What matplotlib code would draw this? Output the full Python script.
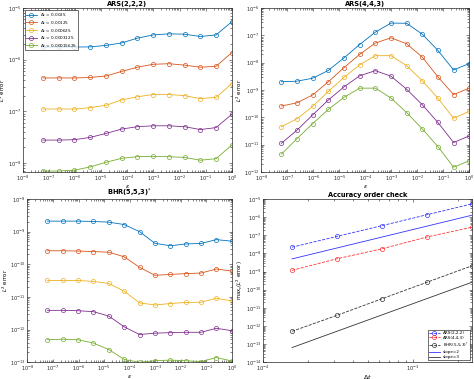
import matplotlib
matplotlib.use("Agg")
import matplotlib.pyplot as plt
import numpy as np
from matplotlib.ticker import LogLocator, NullFormatter

plt.rcParams["font.family"] = "DejaVu Sans"
plt.rcParams["mathtext.fontset"] = "dejavusans"

# epsilon values (x axis of the first three panels)
eps = [5.96e-8, 2.38e-7, 9.54e-7, 3.81e-6, 1.53e-5, 6.10e-5, 2.44e-4,
       9.77e-4, 3.91e-3, 1.56e-2, 6.25e-2, 0.25, 1.0]
dt_labels = ["0.0025", "0.00125", "0.000625", "0.0003125", "0.00015625"]
dt = [0.00015625, 0.0003125, 0.000625, 0.00125, 0.0025]

# ARS(2,2,2) errors, one row per dt (largest dt first)
ars222 = [
    [1.75e-6, 1.75e-6, 1.75e-6, 1.76e-6, 1.88e-6, 2.1e-6, 2.6e-6, 3.0e-6, 3.15e-6, 3.1e-6, 2.8e-6, 3.0e-6, 5.4e-6],
    [4.4e-7, 4.4e-7, 4.4e-7, 4.5e-7, 4.8e-7, 5.9e-7, 7.1e-7, 8.1e-7, 8.3e-7, 7.8e-7, 7.1e-7, 7.4e-7, 1.36e-6],
    [1.1e-7, 1.1e-7, 1.1e-7, 1.17e-7, 1.3e-7, 1.65e-7, 1.9e-7, 2.1e-7, 2.1e-7, 2.0e-7, 1.75e-7, 1.85e-7, 3.4e-7],
    [2.75e-8, 2.75e-8, 2.8e-8, 3.1e-8, 3.7e-8, 4.5e-8, 5.0e-8, 5.2e-8, 5.2e-8, 5.0e-8, 4.4e-8, 4.8e-8, 8.7e-8],
    [6.9e-9, 6.9e-9, 7.2e-9, 8.3e-9, 1.02e-8, 1.22e-8, 1.31e-8, 1.33e-8, 1.31e-8, 1.27e-8, 1.12e-8, 1.2e-8, 2.2e-8],
]

# ARS(4,4,3) errors
ars443 = [
    [2.0e-9, 2.1e-9, 2.7e-9, 5.2e-9, 1.5e-8, 4.6e-8, 1.3e-7, 2.8e-7, 2.75e-7, 1.1e-7, 2.8e-8, 5.4e-9, 9.3e-9],
    [2.6e-10, 3.4e-10, 6.6e-10, 2.0e-9, 6.6e-9, 2.0e-8, 5.2e-8, 8.1e-8, 4.9e-8, 1.6e-8, 3.0e-9, 6.8e-10, 1.17e-9],
    [4.5e-11, 8.9e-11, 2.5e-10, 8.9e-10, 2.9e-9, 8.3e-9, 1.8e-8, 1.8e-8, 7.8e-9, 2.2e-9, 5.0e-10, 9.3e-11, 1.66e-10],
    [1.12e-11, 3.4e-11, 1.23e-10, 4.3e-10, 1.3e-9, 3.3e-9, 5.1e-9, 3.2e-9, 1.07e-9, 2.9e-10, 6.5e-11, 1.2e-11, 2.1e-11],
    [4.5e-12, 1.66e-11, 5.9e-11, 1.95e-10, 5.4e-10, 1.17e-9, 1.17e-9, 5.1e-10, 1.5e-10, 3.8e-11, 8.5e-12, 1.5e-12, 2.6e-12],
]

# BHR(5,5,3)* errors
bhr553 = [
    [2.1e-9, 2.1e-9, 2.1e-9, 2.05e-9, 1.95e-9, 1.65e-9, 1.0e-9, 4.4e-10, 3.7e-10, 4.2e-10, 4.35e-10, 5.7e-10, 5.1e-10],
    [2.6e-10, 2.6e-10, 2.55e-10, 2.45e-10, 2.35e-10, 1.7e-10, 8.1e-11, 4.6e-11, 4.9e-11, 5.2e-11, 5.4e-11, 7.2e-11, 6.2e-11],
    [3.2e-11, 3.2e-11, 3.2e-11, 3.0e-11, 2.6e-11, 1.5e-11, 6.6e-12, 5.7e-12, 6.3e-12, 6.8e-12, 6.9e-12, 9.1e-12, 7.6e-12],
    [3.9e-12, 3.9e-12, 3.8e-12, 3.55e-12, 2.6e-12, 1.22e-12, 7.1e-13, 7.8e-13, 8.1e-13, 8.3e-13, 8.3e-13, 1.1e-12, 9.3e-13],
    [4.9e-13, 5.1e-13, 4.9e-13, 3.9e-13, 2.45e-13, 1.23e-13, 1.0e-13, 1.12e-13, 1.17e-13, 1.12e-13, 1.05e-13, 1.4e-13, 1.1e-13],
]

# reference slope lines, values at the smallest and largest dt
slope2 = [5.0e-9, 1.28e-6]
slope3 = [6.5e-14, 2.6e-10]

colors = ["#0072BD", "#D95319", "#EDB120", "#7E2F8E", "#77AC30"]
FS = 3.6


def style_axes(ax):
    ax.set_xscale("log")
    ax.set_yscale("log")
    ax.tick_params(which="both", direction="in", top=True, right=True,
                   labelsize=FS, width=0.4, colors="#262626", pad=1.2)
    ax.tick_params(which="major", length=2.5)
    ax.tick_params(which="minor", length=1.3)
    ax.yaxis.set_major_locator(LogLocator(base=10, numticks=20))
    ax.yaxis.set_minor_locator(LogLocator(base=10, subs=np.arange(2, 10), numticks=20))
    ax.yaxis.set_minor_formatter(NullFormatter())
    ax.xaxis.set_major_locator(LogLocator(base=10, numticks=20))
    ax.xaxis.set_minor_locator(LogLocator(base=10, subs=np.arange(2, 10), numticks=20))
    ax.xaxis.set_minor_formatter(NullFormatter())
    for s in ax.spines.values():
        s.set_linewidth(0.5)
        s.set_color("#262626")


fig = plt.figure(figsize=(4.74, 3.79), dpi=100)
ax1 = fig.add_axes([0.048, 0.546, 0.441, 0.433])
ax2 = fig.add_axes([0.551, 0.546, 0.439, 0.433])
ax3 = fig.add_axes([0.058, 0.044, 0.431, 0.431])
ax4 = fig.add_axes([0.555, 0.044, 0.441, 0.431])

panels = [(ax1, ars222, "ARS(2,2,2)", r"$L^1$ error", (6.6e-9, 1e-5)),
          (ax2, ars443, "ARS(4,4,3)", r"$L^2$ error", (1e-12, 1e-6)),
          (ax3, bhr553, r"BHR(5,5,3)$^{*}$", r"$L^2$ error", (1e-13, 1e-8))]

for ax, data, title, ylab, ylim in panels:
    for i, row in enumerate(data):
        ax.plot(eps, row, "-o", color=colors[i], lw=0.6, ms=3, mfc="none",
                mew=0.5, label=r"$\Delta t$ = " + dt_labels[i])
    style_axes(ax)
    ax.set_xlim(1e-8, 1)
    ax.set_ylim(*ylim)
    ax.set_title(title, fontsize=4.8, fontweight="bold", pad=1.2)
    ax.set_xlabel(r"$\epsilon$", fontsize=4.5, labelpad=0)
    ax.set_ylabel(ylab, fontsize=4, labelpad=0.3)

leg = ax1.legend(loc="upper left", fontsize=3.0, frameon=True, fancybox=False,
                 borderpad=0.3, labelspacing=0.15, handlelength=2.5,
                 borderaxespad=0.5)
leg.get_frame().set_edgecolor("k")
leg.get_frame().set_linewidth(0.5)

# accuracy order check: max over epsilon
max222 = np.max(ars222, axis=1)[::-1]
max443 = np.max(ars443, axis=1)[::-1]
max553 = np.max(bhr553, axis=1)[::-1]

ax4.plot(dt, max222, "--o", color="#3333ff", lw=0.6, ms=3, mfc="none", mew=0.5, label="ARS(2,2,2)")
ax4.plot(dt, max443, "--o", color="#ff3333", lw=0.6, ms=3, mfc="none", mew=0.5, label="ARS(4,4,3)")
ax4.plot(dt, max553, "--o", color="#333333", lw=0.6, ms=3, mfc="none", mew=0.5, label=r"BHR(5,5,3)$^{*}$")
ax4.plot([dt[0], dt[-1]], slope2, "-", color="#3333ff", lw=0.6, label="slope=2")
ax4.plot([dt[0], dt[-1]], slope3, "-", color="#333333", lw=0.6, label="slope=3")
style_axes(ax4)
ax4.set_xlim(1e-4, 2.5e-3)
ax4.set_ylim(1e-14, 1e-5)
ax4.set_title("Accuracy order check", fontsize=4.8, fontweight="bold", pad=1.2)
ax4.set_xlabel(r"$\Delta t$", fontsize=4.5, labelpad=0)
ax4.set_ylabel(r"max$_{\epsilon}$($L^2$ error)", fontsize=3.8, labelpad=0.3)
leg4 = ax4.legend(loc="lower right", fontsize=3.0, frameon=True, fancybox=False,
                  borderpad=0.3, labelspacing=0.15, handlelength=2.5,
                  borderaxespad=0.5)
leg4.get_frame().set_edgecolor("k")
leg4.get_frame().set_linewidth(0.5)

fig.savefig("out.png", dpi=100)
